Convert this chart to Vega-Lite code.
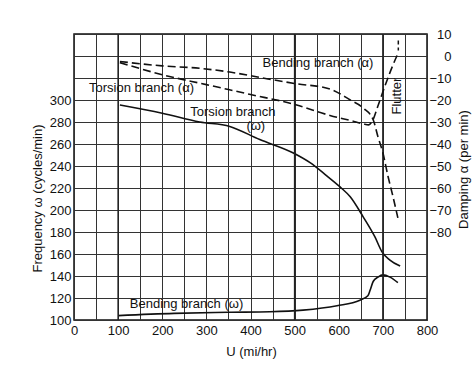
{
  "$schema": "https://vega.github.io/schema/vega-lite/v6.json",
  "width": 353,
  "height": 286,
  "autosize": "none",
  "padding": {"left": 74, "top": 34, "right": 47, "bottom": 71},
  "background": "white",
  "config": {
    "view": {"stroke": "#111", "strokeWidth": 1.5},
    "font": "Liberation Sans",
    "axis": {"labelColor": "#111", "titleColor": "#111", "titleFontWeight": "normal", "labelFontSize": 13, "titleFontSize": 13, "labelOverlap": false, "labelFlush": false, "ticks": false, "domain": false},
    "text": {"font": "Liberation Sans", "fontSize": 13, "color": "#111"}
  },
  "datasets": {
    "freq": [
      {"series": "Torsion branch (ω)", "U": 104, "f": 295.5},
      {"series": "Torsion branch (ω)", "U": 200, "f": 288},
      {"series": "Torsion branch (ω)", "U": 285, "f": 280},
      {"series": "Torsion branch (ω)", "U": 353, "f": 276},
      {"series": "Torsion branch (ω)", "U": 421, "f": 264},
      {"series": "Torsion branch (ω)", "U": 496, "f": 252},
      {"series": "Torsion branch (ω)", "U": 535, "f": 243},
      {"series": "Torsion branch (ω)", "U": 570, "f": 232},
      {"series": "Torsion branch (ω)", "U": 603, "f": 221},
      {"series": "Torsion branch (ω)", "U": 626, "f": 212},
      {"series": "Torsion branch (ω)", "U": 655, "f": 194},
      {"series": "Torsion branch (ω)", "U": 682, "f": 175.5},
      {"series": "Torsion branch (ω)", "U": 698, "f": 162},
      {"series": "Torsion branch (ω)", "U": 716, "f": 154.5},
      {"series": "Torsion branch (ω)", "U": 739, "f": 149},
      {"series": "Bending branch (ω)", "U": 100, "f": 104},
      {"series": "Bending branch (ω)", "U": 227, "f": 106},
      {"series": "Bending branch (ω)", "U": 350, "f": 107},
      {"series": "Bending branch (ω)", "U": 444, "f": 107.5},
      {"series": "Bending branch (ω)", "U": 519, "f": 109},
      {"series": "Bending branch (ω)", "U": 596, "f": 113},
      {"series": "Bending branch (ω)", "U": 648, "f": 118},
      {"series": "Bending branch (ω)", "U": 666, "f": 122},
      {"series": "Bending branch (ω)", "U": 671, "f": 127},
      {"series": "Bending branch (ω)", "U": 678, "f": 135},
      {"series": "Bending branch (ω)", "U": 689, "f": 139},
      {"series": "Bending branch (ω)", "U": 700, "f": 141},
      {"series": "Bending branch (ω)", "U": 716, "f": 139},
      {"series": "Bending branch (ω)", "U": 734, "f": 134}
    ],
    "damp": [
      {"series": "Bending branch (α)", "U": 104, "d": -2.5},
      {"series": "Bending branch (α)", "U": 200, "d": -4.5},
      {"series": "Bending branch (α)", "U": 285, "d": -5.6},
      {"series": "Bending branch (α)", "U": 353, "d": -7.3},
      {"series": "Bending branch (α)", "U": 428, "d": -10},
      {"series": "Bending branch (α)", "U": 500, "d": -12.5},
      {"series": "Bending branch (α)", "U": 580, "d": -15},
      {"series": "Bending branch (α)", "U": 626, "d": -20},
      {"series": "Bending branch (α)", "U": 655, "d": -23.6},
      {"series": "Bending branch (α)", "U": 678, "d": -29},
      {"series": "Bending branch (α)", "U": 689, "d": -36.8},
      {"series": "Bending branch (α)", "U": 700, "d": -44},
      {"series": "Bending branch (α)", "U": 712, "d": -55},
      {"series": "Bending branch (α)", "U": 723, "d": -64},
      {"series": "Bending branch (α)", "U": 734, "d": -73.6},
      {"series": "Torsion branch (α)", "U": 104, "d": -3},
      {"series": "Torsion branch (α)", "U": 200, "d": -8.5},
      {"series": "Torsion branch (α)", "U": 300, "d": -13},
      {"series": "Torsion branch (α)", "U": 400, "d": -17.5},
      {"series": "Torsion branch (α)", "U": 500, "d": -22},
      {"series": "Torsion branch (α)", "U": 580, "d": -27},
      {"series": "Torsion branch (α)", "U": 630, "d": -29.5},
      {"series": "Torsion branch (α)", "U": 655, "d": -30.8},
      {"series": "Torsion branch (α)", "U": 668, "d": -31.3},
      {"series": "Torsion branch (α)", "U": 675, "d": -30},
      {"series": "Torsion branch (α)", "U": 690, "d": -22},
      {"series": "Torsion branch (α)", "U": 705, "d": -13.5},
      {"series": "Torsion branch (α)", "U": 720, "d": -5.5},
      {"series": "Torsion branch (α)", "U": 735, "d": 1.5}
    ],
    "flutterLine": [{"U": 735, "d": 7, "d2": 2.5}],
    "freqLabels": [
      {"U": 360, "f": 289, "t": "Torsion branch"},
      {"U": 412, "f": 276, "t": "(ω)"},
      {"U": 255, "f": 114.5, "t": "Bending branch (ω)"}
    ],
    "dampLabels": [
      {"U": 553, "d": -3.2, "t": "Bending branch (α)"},
      {"U": 153, "d": -14.5, "t": "Torsion branch (α)"}
    ],
    "flutterLabel": [{"U": 732, "d": -18.2, "t": "Flutter"}],
    "heavyGrid": [{"U": 100}, {"U": 500}, {"U": 700}]
  },
  "layer": [
    {
      "layer": [
        {
          "data": {"name": "freq"},
          "mark": {"type": "line", "color": "#111", "strokeWidth": 1.6, "interpolate": "monotone"},
          "encoding": {
            "x": {"field": "U", "type": "quantitative", "scale": {"domain": [0, 800], "nice": false},
              "axis": {"values": [0, 50, 100, 150, 200, 250, 300, 350, 400, 450, 500, 550, 600, 650, 700, 750, 800], "tickCount": 100,
                "labelExpr": "datum.value % 100 === 0 ? datum.label : ''", "labelOverlap": false, "labelFlush": false,
                "grid": true, "gridColor": "#333", "gridWidth": 1, "labelPadding": 4,
                "title": "U (mi/hr)", "titleBaseline": "middle", "titleAlign": "center", "titleX": 177, "titleY": 31}},
            "y": {"field": "f", "type": "quantitative", "scale": {"domain": [100, 360], "nice": false, "zero": false},
              "axis": {"values": [100, 120, 140, 160, 180, 200, 220, 240, 260, 280, 300, 320, 340, 360], "tickCount": 100,
                "labelExpr": "datum.value <= 300 ? datum.label : ''", "labelOverlap": false, "labelFlush": false,
                "grid": true, "gridColor": "#333", "gridWidth": 1, "labelPadding": 3,
                "title": "Frequency ω (cycles/min)", "titleAngle": 270, "titleAlign": "center", "titleBaseline": "middle", "titleX": -37, "titleY": 164}},
            "detail": {"field": "series"}
          }
        },
        {
          "data": {"name": "heavyGrid"},
          "mark": {"type": "rule", "color": "#222", "strokeWidth": 1.5},
          "encoding": {
            "x": {"field": "U", "type": "quantitative", "title": "U (mi/hr)"}
          }
        },
        {
          "data": {"name": "freqLabels"},
          "mark": {"type": "text", "align": "center", "baseline": "middle"},
          "encoding": {
            "x": {"field": "U", "type": "quantitative", "title": "U (mi/hr)"},
            "y": {"field": "f", "type": "quantitative", "title": "Frequency ω (cycles/min)"},
            "text": {"field": "t"}
          }
        }
      ]
    },
    {
      "layer": [
        {
          "data": {"name": "damp"},
          "mark": {"type": "line", "color": "#111", "strokeWidth": 1.6, "strokeDash": [8, 4], "interpolate": "monotone"},
          "encoding": {
            "x": {"field": "U", "type": "quantitative", "title": "U (mi/hr)"},
            "y": {"field": "d", "type": "quantitative", "scale": {"domain": [-120, 10], "nice": false, "zero": false},
              "axis": {"orient": "right", "values": [-80, -70, -60, -50, -40, -30, -20, -10, 0, 10], "tickCount": 100,
                "format": "d", "labelOverlap": false, "labelFlush": false,
                "grid": false, "labelAlign": "right", "labelPadding": 24,
                "title": "Damping α (per min)", "titleAngle": 270, "titleAlign": "center", "titleBaseline": "middle", "titleX": 36, "titleY": 135}},
            "detail": {"field": "series"}
          }
        },
        {
          "data": {"name": "flutterLine"},
          "mark": {"type": "rule", "color": "#111", "strokeWidth": 1.5, "strokeDash": [4, 3]},
          "encoding": {
            "x": {"field": "U", "type": "quantitative", "title": "U (mi/hr)"},
            "y": {"field": "d", "type": "quantitative", "title": "Damping α (per min)"},
            "y2": {"field": "d2"}
          }
        },
        {
          "data": {"name": "dampLabels"},
          "mark": {"type": "text", "align": "center", "baseline": "middle"},
          "encoding": {
            "x": {"field": "U", "type": "quantitative", "title": "U (mi/hr)"},
            "y": {"field": "d", "type": "quantitative", "title": "Damping α (per min)"},
            "text": {"field": "t"}
          }
        },
        {
          "data": {"name": "flutterLabel"},
          "mark": {"type": "text", "align": "center", "baseline": "middle", "angle": 270},
          "encoding": {
            "x": {"field": "U", "type": "quantitative", "title": "U (mi/hr)"},
            "y": {"field": "d", "type": "quantitative", "title": "Damping α (per min)"},
            "text": {"field": "t"}
          }
        }
      ]
    }
  ],
  "resolve": {"scale": {"y": "independent"}}
}
